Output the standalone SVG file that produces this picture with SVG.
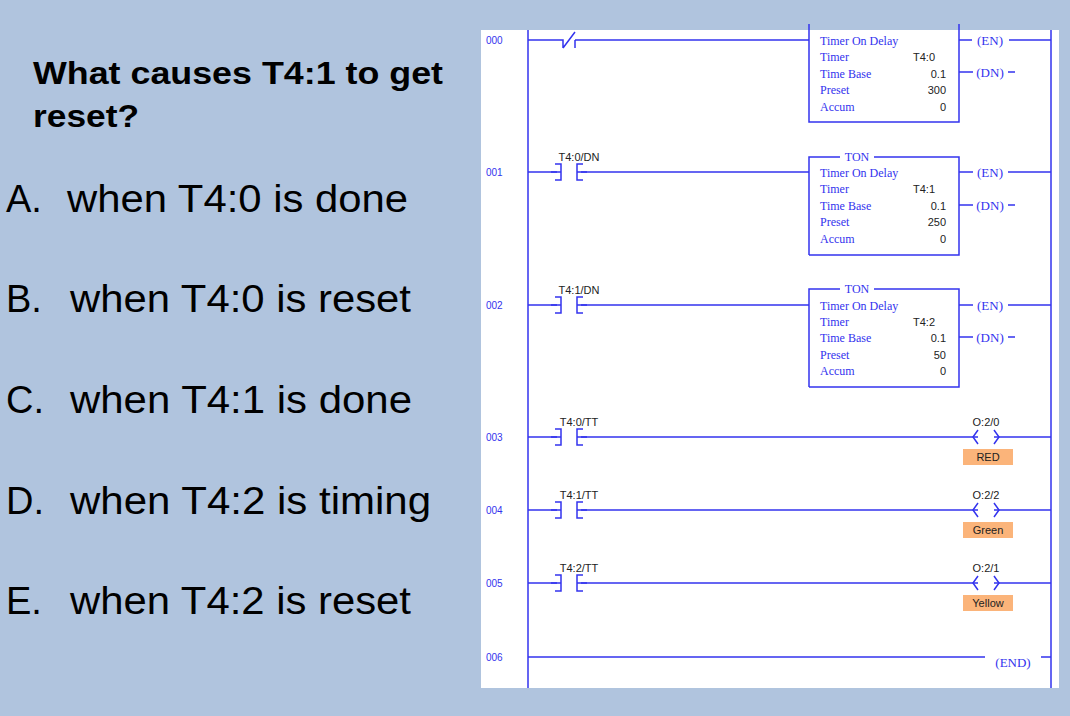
<svg xmlns="http://www.w3.org/2000/svg" width="1070" height="716" viewBox="0 0 1070 716">
<style>
.q{font-family:"Liberation Sans",Arial,sans-serif;fill:#000}
.l{stroke:#3333ee;stroke-width:1.5;fill:none}
.n{font-family:"Liberation Sans",Arial,sans-serif;font-size:10px;fill:#3333ee}
.t{font-family:"Liberation Sans",Arial,sans-serif;font-size:11px;fill:#222}
.s{font-family:"Liberation Serif","Times New Roman",serif;font-size:12px;fill:#3333ee}
.c{font-family:"Liberation Serif","Times New Roman",serif;font-size:13px;fill:#3333ee}
.o{fill:#fbb47a}
</style>
<defs>
<g id="no"><path class="l" d="M-18 0H-8M-14 -8H-8V8H-14M8 0H18M14 -8H8V8H14"/></g>
<g id="coil"><path class="l" d="M-8 -7L-13 0L-8 7M8 -7L13 0L8 7"/></g>
</defs>
<rect width="1070" height="716" fill="#b0c4de"/>
<g id="question">
<text class="q" x="33" y="84" font-size="31" font-weight="bold" textLength="410" lengthAdjust="spacingAndGlyphs">What causes T4:1 to get</text>
<text class="q" x="33" y="127" font-size="31" font-weight="bold" textLength="106" lengthAdjust="spacingAndGlyphs">reset?</text>
<text class="q" x="6" y="212" font-size="38">A.</text><text class="q" x="67" y="212" font-size="38" textLength="341" lengthAdjust="spacingAndGlyphs">when T4:0 is done</text>
<text class="q" x="6" y="312" font-size="38">B.</text><text class="q" x="70" y="312" font-size="38" textLength="341" lengthAdjust="spacingAndGlyphs">when T4:0 is reset</text>
<text class="q" x="6" y="413" font-size="38">C.</text><text class="q" x="70" y="413" font-size="38" textLength="342" lengthAdjust="spacingAndGlyphs">when T4:1 is done</text>
<text class="q" x="6" y="514" font-size="38">D.</text><text class="q" x="70" y="514" font-size="38" textLength="361" lengthAdjust="spacingAndGlyphs">when T4:2 is timing</text>
<text class="q" x="6" y="614" font-size="38">E.</text><text class="q" x="70" y="614" font-size="38" textLength="341" lengthAdjust="spacingAndGlyphs">when T4:2 is reset</text>
</g>
<rect x="481" y="30" width="578" height="658" fill="#fff"/>
<g id="connectors">
<path class="l" d="M528 30V688M1051 30V688"/>
<path class="l" d="M528 40H557M581 40H809M528 172H557M581 172H809M528 305H557M581 305H809M528 437H557M581 437H1051M528 510H557M581 510H1051M528 583H557M581 583H1051M528 657H1051"/>
<path class="l" d="M959 40H973M1008 40H1051M959 172H973M1008 172H1051M959 305H973M1008 305H1051M959 72H973M1008 72H1015M959 205H973M1008 205H1015M959 337H973M1008 337H1015"/>
</g>
<g id="rungnums">
<text class="n" x="486" y="44">000</text><text class="n" x="486" y="176">001</text><text class="n" x="486" y="309">002</text>
<text class="n" x="486" y="441">003</text><text class="n" x="486" y="514">004</text><text class="n" x="486" y="587">005</text><text class="n" x="486" y="661">006</text>
</g>
<g id="r000">
<path class="l" d="M557 40H563V48M563 48L575 32M575 40V48M575 40H581"/>
<path class="l" d="M809 24V122H959V24"/>
<text class="s" x="820" y="45">Timer On Delay</text>
<text class="s" x="820" y="61">Timer</text><text class="t" x="935" y="61" text-anchor="end">T4:0</text>
<text class="s" x="820" y="78">Time Base</text><text class="t" x="946" y="78" text-anchor="end">0.1</text>
<text class="s" x="820" y="94">Preset</text><text class="t" x="946" y="94" text-anchor="end">300</text>
<text class="s" x="820" y="111">Accum</text><text class="t" x="946" y="111" text-anchor="end">0</text>
<rect x="972" y="31" width="37" height="18" fill="#fff"/>
<text class="c" x="990" y="45" text-anchor="middle">(EN)</text>
<text class="c" x="990" y="77" text-anchor="middle">(DN)</text>
</g>
<g id="r001">
<use href="#no" x="569" y="172"/>
<text class="t" x="579" y="161" text-anchor="middle">T4:0/DN</text>
<path class="l" d="M809 255V157H840M874 157H959V255H809"/>
<text class="s" x="857" y="161" text-anchor="middle">TON</text>
<text class="s" x="820" y="177">Timer On Delay</text>
<text class="s" x="820" y="193">Timer</text><text class="t" x="935" y="193" text-anchor="end">T4:1</text>
<text class="s" x="820" y="210">Time Base</text><text class="t" x="946" y="210" text-anchor="end">0.1</text>
<text class="s" x="820" y="226">Preset</text><text class="t" x="946" y="226" text-anchor="end">250</text>
<text class="s" x="820" y="243">Accum</text><text class="t" x="946" y="243" text-anchor="end">0</text>
<text class="c" x="990" y="177" text-anchor="middle">(EN)</text>
<text class="c" x="990" y="210" text-anchor="middle">(DN)</text>
</g>
<g id="r002">
<use href="#no" x="569" y="305"/>
<text class="t" x="579" y="294" text-anchor="middle">T4:1/DN</text>
<path class="l" d="M809 387V289H840M874 289H959V387H809"/>
<text class="s" x="857" y="293" text-anchor="middle">TON</text>
<text class="s" x="820" y="310">Timer On Delay</text>
<text class="s" x="820" y="326">Timer</text><text class="t" x="935" y="326" text-anchor="end">T4:2</text>
<text class="s" x="820" y="342">Time Base</text><text class="t" x="946" y="342" text-anchor="end">0.1</text>
<text class="s" x="820" y="359">Preset</text><text class="t" x="946" y="359" text-anchor="end">50</text>
<text class="s" x="820" y="375">Accum</text><text class="t" x="946" y="375" text-anchor="end">0</text>
<text class="c" x="990" y="310" text-anchor="middle">(EN)</text>
<text class="c" x="990" y="342" text-anchor="middle">(DN)</text>
</g>
<g id="r003">
<use href="#no" x="569" y="437"/>
<text class="t" x="579" y="426" text-anchor="middle">T4:0/TT</text>
<rect x="978" y="430" width="16" height="14" fill="#fff"/><use href="#coil" x="986" y="437"/>
<text class="t" x="986" y="426" text-anchor="middle">O:2/0</text>
<rect class="o" x="963" y="449" width="50" height="16"/><text class="t" x="988" y="461" text-anchor="middle">RED</text>
</g>
<g id="r004">
<use href="#no" x="569" y="510"/>
<text class="t" x="579" y="499" text-anchor="middle">T4:1/TT</text>
<rect x="978" y="503" width="16" height="14" fill="#fff"/><use href="#coil" x="986" y="510"/>
<text class="t" x="986" y="499" text-anchor="middle">O:2/2</text>
<rect class="o" x="963" y="522" width="50" height="16"/><text class="t" x="988" y="534" text-anchor="middle">Green</text>
</g>
<g id="r005">
<use href="#no" x="569" y="583"/>
<text class="t" x="579" y="572" text-anchor="middle">T4:2/TT</text>
<rect x="978" y="576" width="16" height="14" fill="#fff"/><use href="#coil" x="986" y="583"/>
<text class="t" x="986" y="572" text-anchor="middle">O:2/1</text>
<rect class="o" x="963" y="595" width="50" height="16"/><text class="t" x="988" y="607" text-anchor="middle">Yellow</text>
</g>
<g id="r006">
<rect x="985" y="650" width="56" height="20" fill="#fff"/>
<text class="c" x="1013" y="667" text-anchor="middle" font-size="14">(END)</text>
</g>
</svg>
